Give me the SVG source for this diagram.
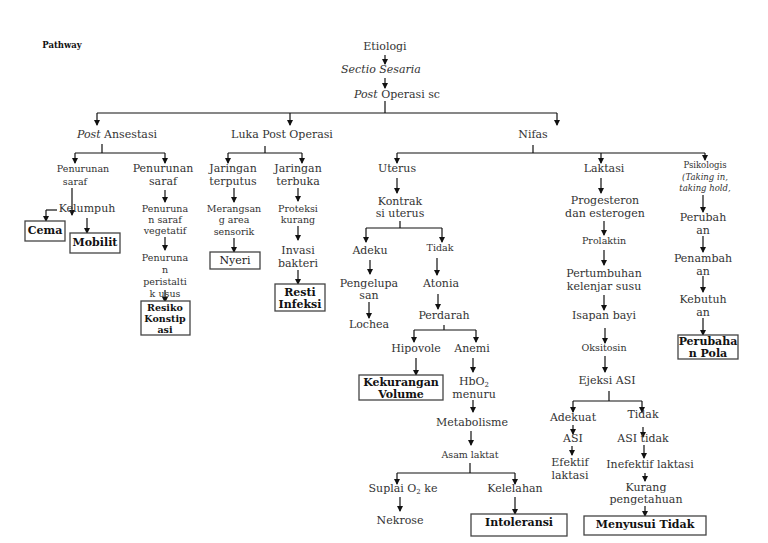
<svg xmlns="http://www.w3.org/2000/svg" width="768" height="543" viewBox="0 0 768 543">
<defs><marker id="a" markerWidth="6" markerHeight="6" refX="5" refY="3" orient="auto" markerUnits="userSpaceOnUse"><path d="M0,0L6,3L0,6z" fill="#111"/></marker></defs>
<style>
text{font-family:"DejaVu Serif","Liberation Serif",serif;font-size:11px;fill:#333;text-anchor:middle}
.s{font-size:9.5px}.b{font-weight:bold;fill:#111}.i{font-style:italic}
.c line,.c path{stroke:#111;stroke-width:1.2;fill:none}
.c .r{marker-end:url(#a)}
rect{fill:#fff;stroke:#444;stroke-width:1.3}
</style>
<rect x="0" y="0" width="768" height="543" style="stroke:none"/>
<g class="c">
<line class="r" x1="385" y1="55" x2="385" y2="64"/><line class="r" x1="385" y1="78" x2="385" y2="88"/>
<path d="M385,101V113M97,113H557"/><line class="r" x1="97" y1="113" x2="97" y2="125"/><line class="r" x1="290" y1="113" x2="290" y2="125"/><line class="r" x1="557" y1="113" x2="557" y2="125"/>
<path d="M102,144V153M75,153H165"/><line class="r" x1="75" y1="153" x2="75" y2="163"/><line class="r" x1="165" y1="153" x2="165" y2="163"/>
<path d="M265,146V153M228,153H302"/><line class="r" x1="228" y1="153" x2="228" y2="163"/><line class="r" x1="302" y1="153" x2="302" y2="163"/>
<line class="r" x1="72" y1="188" x2="72" y2="215"/><path d="M57,210H46"/><line class="r" x1="46" y1="210" x2="46" y2="221"/><line class="r" x1="87" y1="218" x2="87" y2="233"/>
<line class="r" x1="165" y1="190" x2="165" y2="202"/><line class="r" x1="165" y1="237" x2="165" y2="250"/><line class="r" x1="165" y1="290" x2="165" y2="302"/>
<line class="r" x1="234" y1="188" x2="234" y2="202"/><line class="r" x1="234" y1="238" x2="234" y2="252"/>
<line class="r" x1="298" y1="188" x2="298" y2="201"/><line class="r" x1="298" y1="226" x2="298" y2="240"/><line class="r" x1="298" y1="270" x2="298" y2="284"/>
<path d="M533,145V153M397,153H705"/><line class="r" x1="397" y1="153" x2="397" y2="163"/><line class="r" x1="601" y1="153" x2="601" y2="163"/><line class="r" x1="705" y1="153" x2="705" y2="160"/>
<line class="r" x1="397" y1="178" x2="397" y2="193"/><path d="M400,221V228M366,228H442"/><line class="r" x1="366" y1="228" x2="366" y2="242"/><line class="r" x1="442" y1="228" x2="442" y2="242"/>
<line class="r" x1="370" y1="260" x2="370" y2="274"/><line class="r" x1="369" y1="302" x2="369" y2="318"/>
<line class="r" x1="437" y1="258" x2="437" y2="275"/><line class="r" x1="438" y1="294" x2="438" y2="309"/>
<path d="M444,325V330M414,330H476"/><line class="r" x1="414" y1="330" x2="414" y2="342"/><line class="r" x1="476" y1="330" x2="476" y2="342"/>
<line class="r" x1="416" y1="358" x2="416" y2="375"/><line class="r" x1="473" y1="358" x2="473" y2="372"/><line class="r" x1="473" y1="400" x2="473" y2="412"/><line class="r" x1="471" y1="431" x2="471" y2="445"/>
<path d="M470,463V473M397,473H515"/><line class="r" x1="397" y1="473" x2="397" y2="484"/><line class="r" x1="515" y1="473" x2="515" y2="484"/>
<line class="r" x1="400" y1="497" x2="400" y2="511"/><line class="r" x1="515" y1="497" x2="515" y2="514"/>
<line class="r" x1="601" y1="178" x2="601" y2="193"/><line class="r" x1="604" y1="221" x2="604" y2="235"/><line class="r" x1="604" y1="250" x2="604" y2="265"/><line class="r" x1="604" y1="295" x2="604" y2="310"/><line class="r" x1="605" y1="328" x2="605" y2="343"/><line class="r" x1="605" y1="356" x2="605" y2="372"/>
<path d="M609,391V401M573,401H642"/><line class="r" x1="573" y1="401" x2="573" y2="412"/><line class="r" x1="642" y1="401" x2="642" y2="412"/>
<line class="r" x1="573" y1="425" x2="573" y2="434"/><line class="r" x1="572" y1="446" x2="572" y2="455"/>
<line class="r" x1="643" y1="427" x2="643" y2="437"/><line class="r" x1="644" y1="445" x2="644" y2="458"/><line class="r" x1="645" y1="473" x2="645" y2="481"/><line class="r" x1="645" y1="506" x2="645" y2="516"/>
<line class="r" x1="703" y1="195" x2="703" y2="212"/><line class="r" x1="703" y1="236" x2="703" y2="252"/><line class="r" x1="703" y1="276" x2="703" y2="292"/><line class="r" x1="703" y1="318" x2="703" y2="335"/>
</g>
<text x="62" y="48" class="s b" style="font-size:8.5px">Pathway</text>
<g id="etiologi"><text x="385" y="50">Etiologi</text></g>
<g id="sectio"><text x="381" y="73" class="i">Sectio Sesaria</text></g>
<g id="post"><text x="397" y="98"><tspan class="i">Post</tspan> Operasi sc</text></g>
<g id="ansestasi"><text x="117" y="138"><tspan class="i">Post</tspan> Ansestasi</text></g>
<g id="luka"><text x="282" y="138">Luka Post Operasi</text></g>
<g id="nifas"><text x="533" y="138">Nifas</text></g>
<g id="pen1"><text x="83" y="172" class="s">Penurunan</text><text x="75" y="185" class="s">saraf</text></g>
<g id="pen2"><text x="163" y="172">Penurunan</text><text x="163" y="185">saraf</text></g>
<g id="kelumpuh"><text x="87" y="212">Kelumpuh</text></g>
<g id="cemas"><rect x="25" y="221" width="40" height="20"/><text x="45" y="234" class="b">Cema</text></g>
<g id="mobilit"><rect x="70" y="233" width="50" height="20"/><text x="95" y="246" class="b">Mobilit</text></g>
<g id="veg"><text x="165" y="212" class="s">Penuruna</text><text x="165" y="223" class="s">n saraf</text><text x="165" y="234" class="s">vegetatif</text></g>
<g id="peris"><text x="165" y="261" class="s">Penuruna</text><text x="165" y="273" class="s">n</text><text x="165" y="285" class="s">peristalti</text><text x="165" y="297" class="s">k usus</text></g>
<g id="konstip"><rect x="141" y="301" width="49" height="34"/><text x="165" y="311" class="s b">Resiko</text><text x="165" y="322" class="s b">Konstip</text><text x="165" y="333" class="s b">asi</text></g>
<g id="jt1"><text x="233" y="172">Jaringan</text><text x="233" y="185">terputus</text></g>
<g id="jt2"><text x="298" y="172">Jaringan</text><text x="298" y="185">terbuka</text></g>
<g id="merang"><text x="234" y="212" class="s">Merangsan</text><text x="234" y="223" class="s">g area</text><text x="234" y="235" class="s">sensorik</text></g>
<g id="nyeri"><rect x="210" y="252" width="50" height="17"/><text x="235" y="264" class="b" style="font-weight:normal;fill:#222">Nyeri</text></g>
<g id="proteksi"><text x="298" y="212" class="s">Proteksi</text><text x="298" y="223" class="s">kurang</text></g>
<g id="invasi"><text x="298" y="254">Invasi</text><text x="298" y="267">bakteri</text></g>
<g id="resti"><rect x="275" y="284" width="50" height="27"/><text x="300" y="296" class="b">Resti</text><text x="300" y="308" class="b">Infeksi</text></g>
<g id="uterus"><text x="397" y="172">Uterus</text></g>
<g id="kontraksi"><text x="400" y="205">Kontrak</text><text x="400" y="217">si uterus</text></g>
<g id="adeku"><text x="370" y="254">Adeku</text></g>
<g id="tidak1"><text x="440" y="251" class="s">Tidak</text></g>
<g id="pengelupa"><text x="369" y="287">Pengelupa</text><text x="369" y="299">san</text></g>
<g id="lochea"><text x="369" y="328">Lochea</text></g>
<g id="atonia"><text x="441" y="287">Atonia</text></g>
<g id="perdarah"><text x="444" y="319">Perdarah</text></g>
<g id="hipo"><text x="416" y="352">Hipovole</text></g>
<g id="anemi"><text x="472" y="352">Anemi</text></g>
<g id="kekurangan"><rect x="359" y="375" width="84" height="25"/><text x="401" y="386" class="b">Kekurangan</text><text x="401" y="398" class="b">Volume</text></g>
<g id="hbo"><text x="474" y="385">HbO<tspan font-size="7" dy="2">2</tspan></text><text x="474" y="398">menuru</text></g>
<g id="metab"><text x="472" y="426">Metabolisme</text></g>
<g id="asam"><text x="470" y="458" class="s">Asam laktat</text></g>
<g id="suplai"><text x="403" y="492">Suplai O<tspan font-size="7" dy="2">2</tspan><tspan dy="-2"> ke</tspan></text></g>
<g id="nekrose"><text x="400" y="524">Nekrose</text></g>
<g id="kelelahan"><text x="515" y="492">Kelelahan</text></g>
<g id="intoleransi"><rect x="471" y="514" width="96" height="22"/><text x="519" y="526" class="b">Intoleransi</text></g>
<g id="laktasi"><text x="604" y="172">Laktasi</text></g>
<g id="progest"><text x="605" y="204">Progesteron</text><text x="605" y="217">dan esterogen</text></g>
<g id="prolaktin"><text x="604" y="244" class="s">Prolaktin</text></g>
<g id="pertumb"><text x="604" y="277">Pertumbuhan</text><text x="604" y="290">kelenjar susu</text></g>
<g id="isapan"><text x="604" y="319">Isapan bayi</text></g>
<g id="oksitosin"><text x="604" y="351" class="s">Oksitosin</text></g>
<g id="ejeksi"><text x="607" y="384">Ejeksi ASI</text></g>
<g id="adekuat"><text x="573" y="421">Adekuat</text></g>
<g id="asi"><text x="573" y="442">ASI</text></g>
<g id="efektif"><text x="570" y="466">Efektif</text><text x="570" y="479">laktasi</text></g>
<g id="tidak2"><text x="643" y="418">Tidak</text></g>
<g id="asitidak"><text x="643" y="442">ASI tidak</text></g>
<g id="inefektif"><text x="650" y="468">Inefektif laktasi</text></g>
<g id="kurang"><text x="646" y="491">Kurang</text><text x="646" y="503">pengetahuan</text></g>
<g id="menyusui"><rect x="584" y="516" width="122" height="19"/><text x="645" y="528" class="b">Menyusui Tidak</text></g>
<g id="psiko"><text x="705" y="168" class="s" style="font-size:8.5px">Psikologis</text><text x="705" y="180" class="s i" style="font-size:8.5px">(Taking in,</text><text x="705" y="191" class="s i" style="font-size:8.5px">taking hold,</text></g>
<g id="perubah"><text x="703" y="221">Perubah</text><text x="703" y="234">an</text></g>
<g id="penambah"><text x="703" y="262">Penambah</text><text x="703" y="275">an</text></g>
<g id="kebutuh"><text x="703" y="303">Kebutuh</text><text x="703" y="316">an</text></g>
<g id="perubahan"><rect x="678" y="335" width="60" height="24"/><text x="708" y="345" class="b">Perubaha</text><text x="708" y="357" class="b">n Pola</text></g>
</svg>
